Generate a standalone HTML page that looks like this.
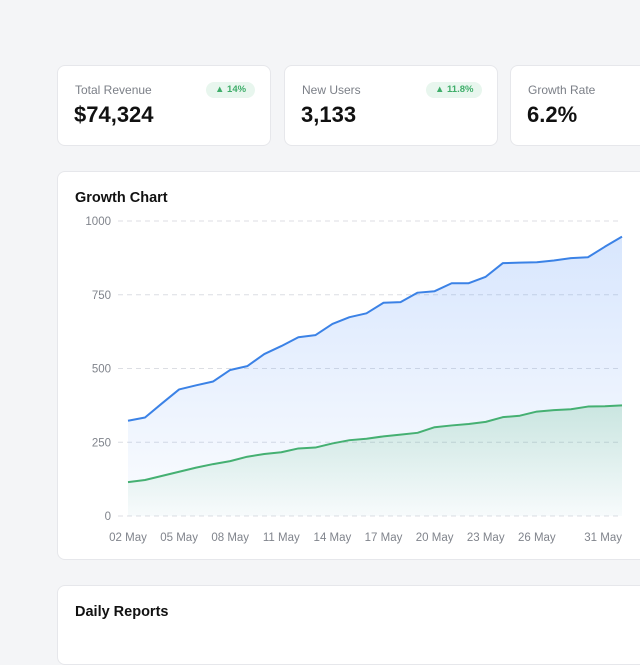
<!DOCTYPE html>
<html><head><meta charset="utf-8"><style>
body{margin:0;width:640px;height:640px;overflow:hidden;background:#f4f5f7;font-family:"Liberation Sans",sans-serif;position:relative}
.card{position:absolute;background:#fff;border:1px solid #e6e7eb;border-radius:8px;box-sizing:border-box}
.lbl{position:absolute;left:17px;top:17px;font-size:12px;color:#7b7f87}
.val{position:absolute;left:16px;top:36px;font-size:22px;font-weight:bold;color:#111}
.badge{position:absolute;top:16px;height:16px;padding:0 9px;border-radius:8px;background:#e8f6ee;color:#3fae6a;font-size:9.5px;line-height:16px;font-weight:bold}
</style></head><body>
<div class="card" style="left:57px;top:65px;width:214px;height:81px">
<div class="lbl">Total Revenue</div>
<div class="badge" style="left:148px">▲ 14%</div>
<div class="val">$74,324</div></div>
<div class="card" style="left:284px;top:65px;width:214px;height:81px">
<div class="lbl">New Users</div>
<div class="badge" style="left:141px">▲ 11.8%</div>
<div class="val">3,133</div></div>
<div class="card" style="left:510px;top:65px;width:150px;height:81px">
<div class="lbl">Growth Rate</div>
<div class="val">6.2%</div></div>
<div class="card" style="left:57px;top:171px;width:600px;height:389px">
<div style="position:absolute;left:17px;top:18px;font-size:14.5px;font-weight:bold;color:#111">Growth Chart</div></div>
<svg id="chart" width="640" height="640" style="position:absolute;left:0;top:0">
<defs>
<linearGradient id="gb" x1="0" y1="0" x2="0" y2="1"><stop offset="0" stop-color="#3b82f6" stop-opacity="0.2"/><stop offset="1" stop-color="#3b82f6" stop-opacity="0.02"/></linearGradient>
<linearGradient id="gg" x1="0" y1="0" x2="0" y2="1"><stop offset="0" stop-color="#3fae6a" stop-opacity="0.2"/><stop offset="1" stop-color="#3fae6a" stop-opacity="0.02"/></linearGradient>
</defs></svg>
<div class="card" style="left:57px;top:585px;width:600px;height:80px">
<div style="position:absolute;left:17px;top:18px;font-size:14.5px;font-weight:bold;color:#111">Daily Reports</div></div>
<script>
const days=[2,3,4,5,6,7,8,9,10,11,12,13,14,15,16,17,18,19,20,21,22,23,24,25,26,27,28,29,30,31];
const blueSeries=[323,334,382,429,443,456,495,508,549,576,606,613,651,674,687,723,725,757,762,789,789,811,857,859,860,866,874,877,913,947];
const greenSeries=[115,122,136,150,164,176,186,201,210,216,229,232,246,257,262,270,276,282,301,307,312,319,335,340,354,359,362,371,372,375];
const yTicks=[0,250,500,750,1000];
const xTickLabels=["02 May","05 May","08 May","11 May","14 May","17 May","20 May","23 May","26 May","31 May"];
const xTickDays=[2,5,8,11,14,17,20,23,26,31];
const NS="http://www.w3.org/2000/svg",svg=document.getElementById('chart');
const X0=128,X1=622,Y0=516,Y1=221;
const x=d=>X0+(d-days[0])/(days[days.length-1]-days[0])*(X1-X0);
const y=v=>Y0-v/1000*(Y0-Y1);
function mk(t,a){const e=document.createElementNS(NS,t);for(const k in a)e.setAttribute(k,a[k]);svg.appendChild(e);return e;}
yTicks.forEach(v=>{
 const l=mk('line',{x1:118,x2:622,y1:y(v),y2:y(v),stroke:'#dcdee3','stroke-dasharray':'5 4'});
 
 
 const t=mk('text',{x:111,y:y(v)+4,'text-anchor':'end','font-size':'11.5',fill:'#80848c'});
 t.textContent=v;
 
 
});
xTickLabels.forEach((s,i)=>{
 const last=i===xTickLabels.length-1;
 const t=mk('text',{x:last?x(xTickDays[i]):x(xTickDays[i]),y:541,'text-anchor':last?'end':'middle','font-size':'11.5',fill:'#80848c'});
 t.textContent=s;
 
 
});
function series(vals,col,grad,name){
 const pts=vals.map((v,i)=>x(days[i])+','+y(v)).join(' ');
 const a=mk('polygon',{points:x(days[0])+','+Y0+' '+pts+' '+x(days[days.length-1])+','+Y0,fill:'url(#'+grad+')'});
 
 
 const l=mk('polyline',{points:pts,fill:'none',stroke:col,'stroke-width':2,'stroke-linejoin':'round'});
 
 
}
series(blueSeries,'#3b82e6','gb','blue-series');
series(greenSeries,'#45b072','gg','green-series');
</script>
</body></html>
